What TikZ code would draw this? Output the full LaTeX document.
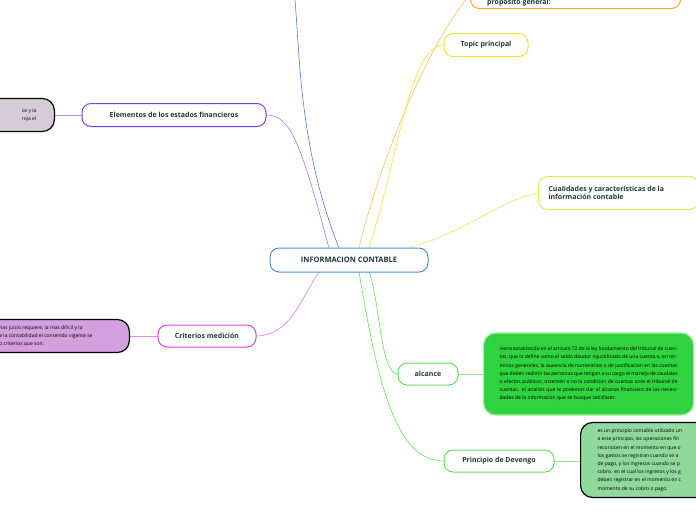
\documentclass[tikz,border=0pt]{standalone}
\usepackage{fontspec}
\setmainfont{Open Sans}
\definecolor{ttxt}{HTML}{1B3A35}
\definecolor{cblue}{HTML}{4A90D9}
\definecolor{cpurp}{HTML}{7B3FF2}
\definecolor{cmag}{HTML}{E040E0}
\definecolor{corg}{HTML}{F5A623}
\definecolor{cyel}{HTML}{F2E33A}
\definecolor{cyg}{HTML}{D8F050}
\definecolor{cgrn}{HTML}{66E05A}
\definecolor{fgrey}{HTML}{D5CCD8}
\definecolor{fpurp}{HTML}{D39FDC}
\definecolor{fgrn}{HTML}{2FD33F}
\definecolor{fgrn2}{HTML}{8FD99B}
\tikzset{
 topic/.style={draw=#1, line width=1pt, fill=white, rounded corners=9pt, font=\bfseries\fontsize{7}{8.5}\selectfont, text=ttxt, inner sep=0pt, align=center},
 note/.style={draw=black, line width=1.2pt, fill=#1, rounded corners=12pt, font=\fontsize{5}{8.2}\selectfont, inner sep=0pt, align=left},
 link/.style={draw=#1, line width=0.6pt}
}
\begin{document}
\begin{tikzpicture}[x=1pt,y=-1pt]
\useasboundingbox (0,0) rectangle (696,520);
\fill[white] (0,0) rectangle (696,520);
\coordinate (c) at (349,260);
\coordinate (topend) at (295,0);
% links
\draw[link=cblue!70!cpurp] (c) ++(-10,-12) .. controls (300,150) and (300,60) .. (topend);
\draw[link=cpurp!70] (c) ++(-20,-12) .. controls (300,140) and (290,115) .. (266,115);
\draw[link=cmag!70] (c) ++(-30,12) .. controls (300,300) and (290,336) .. (256,336);
\draw[link=corg!70] (c) ++(10,-12) .. controls (380,160) and (430,40) .. (470,-5);
\draw[link=cyel] (c) ++(20,-12) .. controls (400,150) and (410,45) .. (444,45);
\draw[link=cyg] (c) ++(60,-12) .. controls (470,230) and (500,200) .. (538,193);
\draw[link=cgrn] (c) ++(20,12) .. controls (380,300) and (380,374) .. (398,374);
\draw[link=cgrn] (c) ++(10,12) .. controls (380,400) and (400,461) .. (444,461);
\draw[link=cpurp!60] (82,115) -- (55,115);
\draw[link=cmag!60] (158,336) -- (130,336);
\draw[link=cgrn!70] (458,374) -- (483,374);
\draw[link=cgrn!70] (554,461) -- (580,461);
% nodes
\node[topic=cblue, minimum width=158pt, minimum height=24pt, font=\bfseries\fontsize{7.5}{9}\selectfont] (main) at (349,260) {INFORMACION CONTABLE};
\node[topic=cpurp, minimum width=184pt, minimum height=23pt] (elem) at (174,115) {Elementos de los estados financieros};
\node[topic=cmag, minimum width=98pt, minimum height=22pt] (crit) at (207,336) {Criterios medición};
\node[topic=corg, minimum width=210pt, minimum height=30pt, anchor=south west] (prop) at (470,9) {};
\node[font=\bfseries\fontsize{7}{8.5}\selectfont, text=ttxt, anchor=west, inner sep=0pt] (proptxt) at (487,3) {propósito general:};
\node[topic=cyel, minimum width=84pt, minimum height=23pt] (topic) at (486,45) {Topic principal};
\node[topic=cyg, minimum width=160pt, minimum height=33pt, anchor=west] (cual) at (538,193) {\parbox{140pt}{Cualidades y características de la\\información contable}};
\node[topic=cgrn, minimum width=60pt, minimum height=22pt] (alc) at (428,374) {alcance};
\node[topic=cgrn, minimum width=110pt, minimum height=22pt] (dev) at (499,461) {Principio de Devengo};
\node[note=fgrey, minimum width=90pt, minimum height=33pt, anchor=east] (n1) at (55,115) {\hspace*{55pt}\parbox{30pt}{os y la\\roja el}};
\node[note=fpurp, minimum width=150pt, minimum height=33pt, anchor=east] (n2) at (130,336) {\hspace*{20pt}\parbox{130pt}{nas juicio requiere, la mas dificil y la\\e la contabilidad el contenido vigente se\\o criterios que son:}};
\node[note=fgrn, draw=cgrn!60, minimum width=210pt, minimum height=82pt, anchor=west] (n3) at (483,374) {\parbox{178pt}{viene establecido en el articulo 72 de la ley fundamiento del tribunal de cuentas, que lo define como el saldo deudor injustificado de una cuenta o, en terminos generales, la ausencia de numerarios o de justificacion en las cuentas que deben redimir las personas que tengan a su cargo el manejo de caudales o efectos publicos, ostenten o no la condicion de cuentas ante el tribunal de cuentas. el analicis que le podemos dar al alcanse financiero de las necesidades de la informacion que se busque satisfacer.}};
\node[note=fgrn2, minimum width=160pt, minimum height=75pt, anchor=west] (n4) at (580,460) {\hspace*{14pt}\parbox{140pt}{es un principio contable utilizado un\\a este principio, las operaciones fin\\reconocen en el momento en que o\\los gastos se registran cuando se a\\de pago, y los ingresos cuando se p\\cobro. en el cual los ingresos y los g\\deben registrar en el momento en c\\momento de su cobro o pago.}};
\end{tikzpicture}
\end{document}
